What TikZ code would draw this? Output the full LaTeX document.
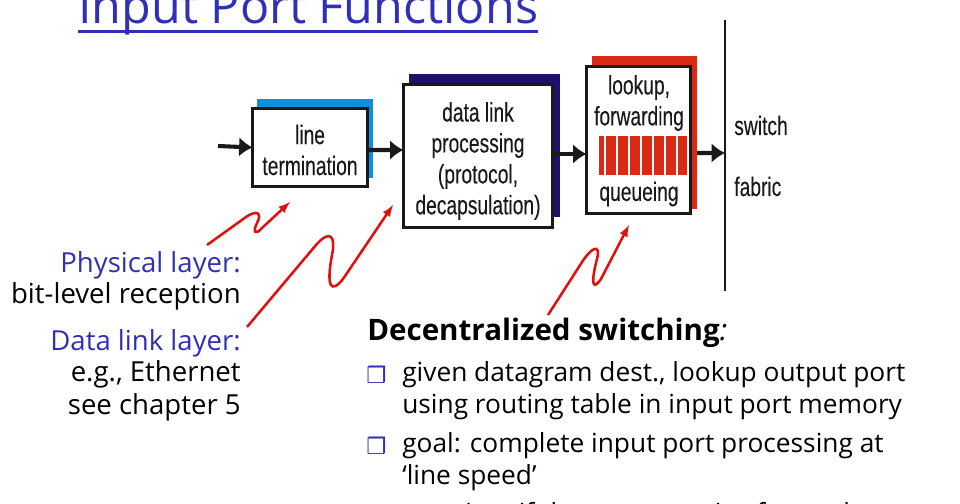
\documentclass[tikz,border=0pt]{standalone}
\usepackage{fontspec}
\usetikzlibrary{arrows.meta}
\setmainfont{Open Sans}
\newfontfamily\boxfont[FakeStretch=0.72,FakeBold=0.2]{Liberation Sans}
\newfontfamily\symfont{DejaVu Sans}
\definecolor{slideblue}{HTML}{3030B4}
\definecolor{lineblue}{HTML}{1090D8}
\definecolor{linknavy}{HTML}{20106A}
\definecolor{lookred}{HTML}{D92A16}
\definecolor{pointred}{HTML}{E01010}
\tikzset{
	frontbox/.style={draw=black!90, fill=white, line width=2.2pt, inner sep=0pt, outer sep=0pt},
	backbox/.style={fill=#1, inner sep=0pt, outer sep=0pt},
	boxtext/.style={font=\boxfont\fontsize{19}{22}\selectfont, align=center, text=black!90, inner sep=0pt},
	flow/.style={line width=2.9pt, draw=black!90, -{Latex[length=9.5pt,width=14pt]}},
	pointer/.style={line width=1.8pt, draw=pointred, ->, >=latex},
	sidetext/.style={font=\fontsize{19.6}{22}\selectfont, anchor=base east, inner sep=0pt},
	bodytext/.style={font=\fontsize{18.7}{22}\selectfont, anchor=base west, inner sep=0pt},
	bulletmark/.style={font=\symfont\fontsize{16}{20}\selectfont, text=slideblue, anchor=base west, inner sep=0pt}
}
\begin{document}
\begin{tikzpicture}[x=0.025cm, y=-0.025cm]
	\useasboundingbox (0,0) rectangle (960,504);
	% title
	\node[font=\fontsize{34.5}{40}\selectfont, text=slideblue, anchor=base west, inner sep=0pt] (title) at (78,24) {Input Port Functions};
	\draw[slideblue, line width=2.4pt] ([shift={(0,7.5)}]title.base west) -- ([shift={(0,7.5)}]title.base east);

	% the three stages
	\node[backbox=lineblue, minimum width=2.9cm, minimum height=1.975cm] (lineback) at (315,138.5) {};
	\node[frontbox, minimum width=2.875cm, minimum height=1.95cm] (linebox) at (310,147.5) {};
	\node[boxtext] (linetext) at (310,150) {line\\termination};
	\node[backbox=linknavy, minimum width=3.775cm, minimum height=3.575cm] (linkback) at (484.5,145.5) {};
	\node[frontbox, minimum width=3.725cm, minimum height=3.575cm] (linkbox) at (478,156) {};
	\node[boxtext] (linktext) at (478,161) {data link\\processing\\(protocol,\\decapsulation)};
	\node[backbox=lookred, minimum width=2.625cm, minimum height=3.825cm] (lookback) at (644.5,132.5) {};
	\node[frontbox, minimum width=2.6cm, minimum height=3.675cm] (lookbox) at (638.5,140) {};
	\node[boxtext] (looktext) at (639,103) {lookup,\\forwarding};
	\node[boxtext] (queuetext) at (639,194) {queueing};
	\foreach \i/\xa/\xb in {1/598.7/604, 2/606/616, 3/618/628, 4/630/640, 5/642/652, 6/654/664, 7/666/676, 8/678/687.3}
		\node[backbox=lookred, minimum width=(\xb-\xa)*0.025cm, minimum height=0.975cm] (cell\i) at ({(\xa+\xb)/2},155.5) {};

	% switch fabric
	\coordinate (fabrictop) at (725,20);
	\coordinate (fabricbottom) at (725,291);
	\coordinate (fabricin) at (725,153);
	\draw[black!90, line width=1.4pt] (fabrictop) -- (fabricbottom);
	\node[boxtext, anchor=base west] (switchtext) at (734,135) {switch};
	\node[boxtext, anchor=base west] (fabrictext) at (734,196) {fabric};

	% data path
	\coordinate (wirein) at (218,146);
	\draw[flow] (wirein) -- ([shift={(0,0)}]linebox.west);
	\draw[flow] ([shift={(-1,2.5)}]linebox.east) -- ([shift={(0,-6)}]linkbox.west);
	\draw[flow] ([shift={(0,-2)}]linkbox.east) -- ([shift={(0,14)}]lookbox.west);
	\draw[flow] ([shift={(0,20.5)}]lookback.east) -- (fabricin);

	% red pointers
	\coordinate (physfrom) at (207,245);
	\coordinate (physto) at (290,202);
	\coordinate (linkfrom) at (247,327);
	\coordinate (linkto) at (393,205);
	\coordinate (lookfrom) at (548,315);
	\coordinate (lookto) at (629,225);
	\draw[pointer] (physfrom) -- (246,217) .. controls (258,209) and (262,214) .. (257,223) .. controls (252,233) and (256,235) .. (262,228) -- (physto);
	\draw[pointer] (linkfrom) -- (316,245) .. controls (330,229) and (336,236) .. (332,255) .. controls (326,287) and (331,294) .. (343,279) -- (linkto);
	\draw[pointer] (lookfrom) -- (584,259) .. controls (596,243) and (600,248) .. (597,259) .. controls (591,282) and (592,292) .. (601,279) -- (lookto);

	% layer notes
	\node[sidetext, text=slideblue] (physhead) at (241,273) {Physical layer:};
	\node[sidetext] (physnote) at (241,304) {bit-level reception};
	\node[sidetext, text=slideblue] (linkhead) at (241,350) {Data link layer:};
	\node[sidetext] (linknote) at (241,382) {e.g., Ethernet};
	\node[sidetext] (chapnote) at (241,414) {see chapter 5};

	% decentralized switching
	\node[font=\bfseries\fontsize{21}{25}\selectfont, anchor=base west, inner sep=0pt] (dechead) at (367,341) {Decentralized switching\textnormal{\itshape :}};
	\node[bulletmark] (markgiven) at (366,383) {❒};
	\node[bodytext] (given) at (402,381) {given datagram dest., lookup output port};
	\node[bodytext] (using) at (402,413) {using routing table in input port memory};
	\node[bulletmark] (markgoal) at (366,454) {❒};
	\node[bodytext] (goal) at (402,452) {goal: complete input port processing at};
	\node[bodytext] (speed) at (402,484) {‘line speed’};
	\node[bulletmark] (markqueue) at (366,526) {❒};
	\node[bodytext] (queue) at (402,522) {queuing: if datagrams arrive faster than};
\end{tikzpicture}
\end{document}
